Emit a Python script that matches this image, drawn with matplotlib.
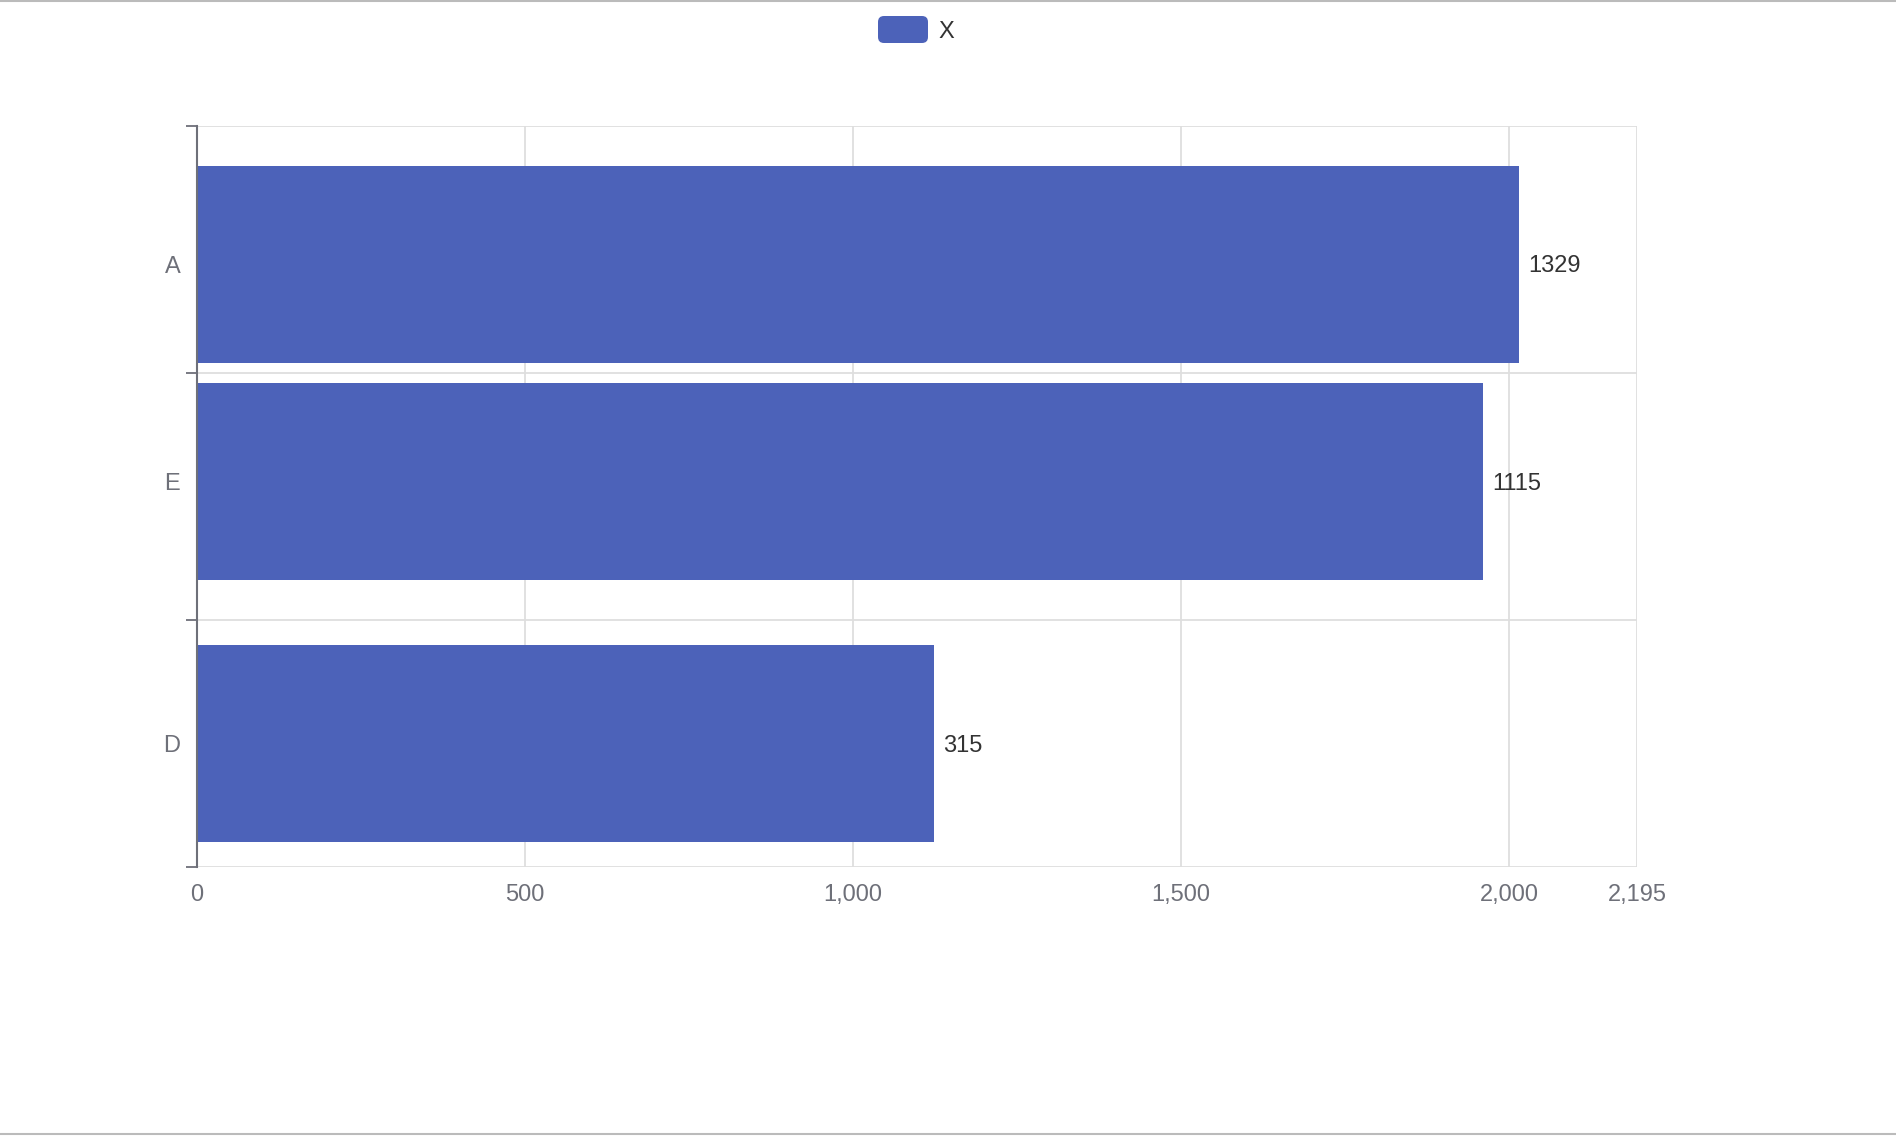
import matplotlib
import matplotlib.pyplot as plt
import numpy as np
from matplotlib.patches import FancyBboxPatch
from matplotlib.lines import Line2D

matplotlib.rcParams["font.family"] = ["Liberation Sans", "DejaVu Sans"]

categories = ["A", "E", "D"]
bar_lengths = [2015, 1960, 1123]
label_values = [1329, 1115, 315]
x_ticks = [0, 500, 1000, 1500, 2000, 2195]
series_name = "X"

bar_color = "#4c62b9"
axis_color = "#6e7079"
grid_color = "#dedede"

W, H = 1896, 1136
fig = plt.figure(figsize=(W / 100, H / 100), dpi=100)
ax = fig.add_axes([197 / W, 1 - 867 / H, (1637 - 197) / W, (867 - 126) / H])

# bars sit slightly off the row centres, like the original render
offsets = [0.06, -0.06, 0.0]
rows = np.arange(len(categories))
centers = rows + np.array(offsets)
ax.barh(centers, bar_lengths, height=0.8, color=bar_color, zorder=3)

for c, L, v in zip(centers, bar_lengths, label_values):
    ax.annotate(str(v), (L, c), xytext=(6.5, -1.5), textcoords="offset points",
                ha="left", va="center", fontsize=17, color="#333333")

ax.set_xlim(0, x_ticks[-1])
ax.set_ylim(len(categories) - 0.5, -0.5)

ax.set_xticks(x_ticks)
ax.set_xticklabels([f"{t:,}" for t in x_ticks])
ax.tick_params(axis="x", length=0, pad=12, labelsize=17, labelcolor=axis_color)
ax.grid(axis="x", color=grid_color, linewidth=1.3, zorder=0)

bounds = np.arange(len(categories) + 1) - 0.5
ax.set_yticks(bounds)
ax.set_yticklabels([])
ax.tick_params(axis="y", which="major", length=8, width=1.3, color=axis_color)
ax.set_yticks(centers, minor=True)
ax.set_yticklabels(categories, minor=True)
ax.tick_params(axis="y", which="minor", length=0, pad=12, labelsize=17,
               labelcolor=axis_color)
for b in bounds:
    ax.axhline(b, color=grid_color, linewidth=1.3, zorder=0)

for s in ["top", "right", "bottom"]:
    ax.spines[s].set_visible(False)
ax.spines["left"].set_color(axis_color)
ax.spines["left"].set_linewidth(1.5)
ax.spines["left"].set_zorder(4)

# legend
fig.patches.append(FancyBboxPatch((878, H - 43), 50, 27,
                                  boxstyle="round,pad=0,rounding_size=6",
                                  facecolor=bar_color, edgecolor="none",
                                  linewidth=0, transform=None, figure=fig))
fig.text(938 / W, 1 - 32 / H, series_name, ha="left", va="center",
         fontsize=17, color="#333333")

# thin frame lines at top and bottom of the canvas
fig.add_artist(Line2D([0, 1], [1 - 0.5 / H, 1 - 0.5 / H], color="#bbbbbb",
                      linewidth=1.5, transform=fig.transFigure))
fig.add_artist(Line2D([0, 1], [2 / H, 2 / H], color="#bbbbbb",
                      linewidth=1.5, transform=fig.transFigure))

fig.savefig("out.png", dpi=100)
